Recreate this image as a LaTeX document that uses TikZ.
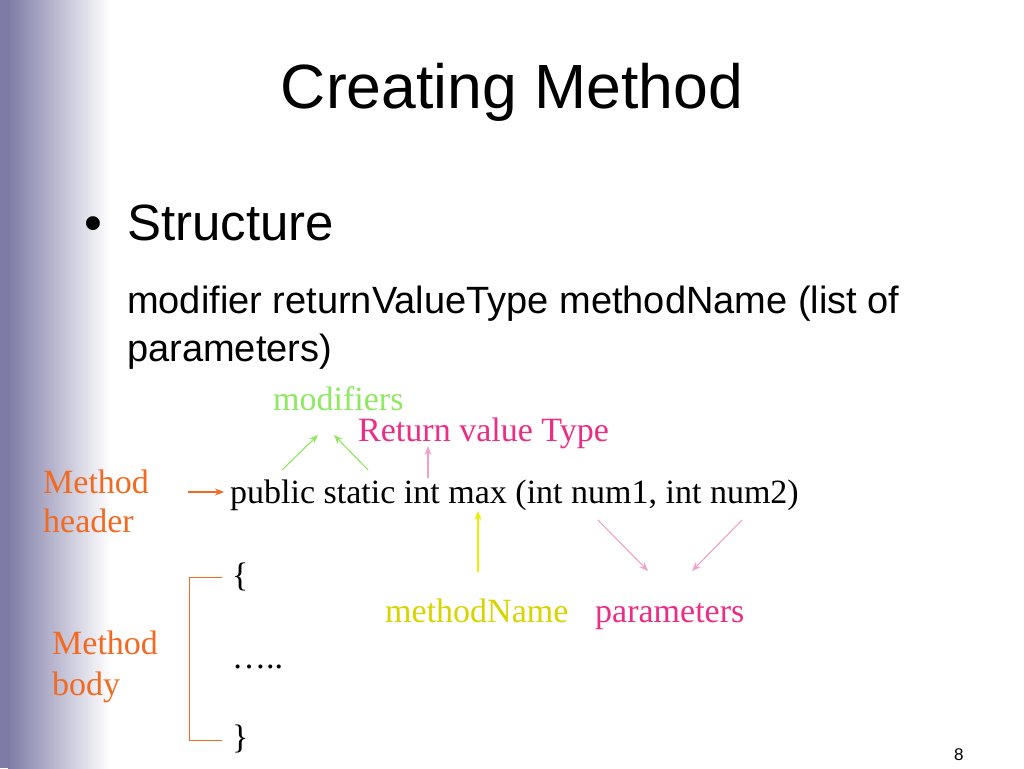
\documentclass[tikz,border=0pt]{standalone}
\usepackage{fontspec}
\usetikzlibrary{arrows.meta}
\setmainfont{Liberation Serif}
\newfontfamily\arialf{Liberation Sans}
\begin{document}
\begin{tikzpicture}[x=1pt,y=-1pt,
  lbl/.style={anchor=base west,inner sep=0pt},
  ser/.style={lbl,font=\fontsize{34}{40}\selectfont},
  con/.style={-{Stealth[length=9pt,width=7pt]},line width=1.1pt},
  ]
\definecolor{barc}{HTML}{7E7BA6}
\definecolor{grn}{HTML}{8EE860}
\definecolor{pnk}{HTML}{EC2D86}
\definecolor{lpnk}{HTML}{F3A0CC}
\definecolor{yel}{HTML}{F0EC00}
\definecolor{ora}{HTML}{F26A21}
\useasboundingbox (0,0) rectangle (1024,768);
\fill[white] (0,0) rectangle (1024,768);
\shade[left color=barc,right color=white] (8,0) rectangle (110,768);
\fill[barc] (0,0) rectangle (8,768);
\node[anchor=base,inner sep=0pt,font=\arialf\fontsize{62.5}{70}\selectfont] (title) at (512,108) {Creating Method};
\node[lbl,font=\arialf\fontsize{51}{56}\selectfont] (bul) at (84,240) {\textbullet};
\node[lbl,font=\arialf\fontsize{51}{56}\selectfont] (struct) at (127,240) {Structure};
\node[lbl,font=\arialf\fontsize{38}{44}\selectfont] (l1) at (127,313) {modifier returnValueType methodName (list of};
\node[lbl,font=\arialf\fontsize{38}{44}\selectfont] (l2) at (127,361) {parameters)};
\node[ser,text=grn] (mods) at (273,410) {modifiers};
\node[ser,text=pnk] (rvt) at (358,441) {Return value Type};
\node[ser] (hdr) at (230,503) {public static int max (int num1, int num2)};
\node[ser,text=yel!90!black] (mn) at (385,622) {methodName};
\node[ser,text=pnk] (par) at (595,622) {parameters};
\node[ser,text=ora] (mh1) at (43,493) {Method};
\node[ser,text=ora] (mh2) at (43,532) {header};
\node[ser,text=ora] (mb1) at (52,654) {Method};
\node[ser,text=ora] (mb2) at (52,695) {body};
\node[ser] (ob) at (232,586) {\{};
\node[ser] (dots) at (232,668) {…..};
\node[ser] (cb) at (232,748) {\}};
\node[lbl,font=\arialf\fontsize{17}{20}\selectfont] (pg) at (954,760) {8};
\coordinate (g1) at (282,470); \coordinate (g1e) at (318,435);
\coordinate (g2) at (368,470); \coordinate (g2e) at (334,435);
\draw[con,grn] (g1) -- (g1e);
\draw[con,grn] (g2) -- (g2e);
\coordinate (r1) at (428,478); \coordinate (r1e) at (428,446);
\draw[con,lpnk] (r1) -- (r1e);
\coordinate (o1) at (188,492); \coordinate (o1e) at (224,492);
\draw[con,ora] (o1) -- (o1e);
\coordinate (y1) at (478,572); \coordinate (y1e) at (478,511);
\draw[con,yel] (y1) -- (y1e);
\coordinate (p1) at (598,520); \coordinate (p1e) at (648,571);
\coordinate (p2) at (742,520); \coordinate (p2e) at (692,571);
\draw[con,lpnk] (p1) -- (p1e);
\draw[con,lpnk] (p2) -- (p2e);
\draw[ora,line width=1pt] (222,577) -- (189,577) -- (189,740) -- (222,740);
\end{tikzpicture}
\end{document}
